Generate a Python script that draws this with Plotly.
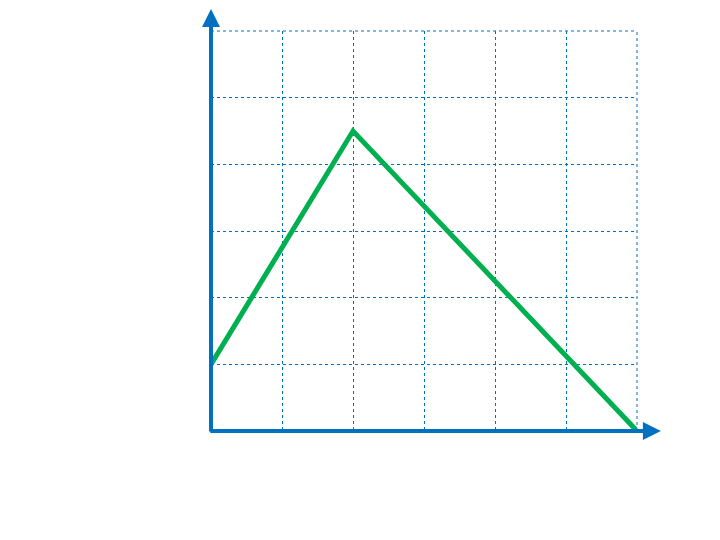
import plotly.graph_objects as go

x_vals = [0, 2, 6]
y_vals = [1, 4.5, 0]

fig = go.Figure()
fig.add_trace(go.Scatter(x=x_vals, y=y_vals, mode="lines",
                         line=dict(color="#00B050", width=5), hoverinfo="skip"))

blue = "#0070C0"
axis_common = dict(range=[0, 6], dtick=1, tick0=0, showgrid=True, gridcolor=blue,
                   gridwidth=1, griddash="dot", showticklabels=False, ticks="",
                   zeroline=False, showline=False, fixedrange=True)
fig.update_xaxes(**axis_common)
fig.update_yaxes(**axis_common)

# boundary grid lines (top and right edges of the plot area)
fig.add_shape(type="line", xref="paper", yref="paper", x0=0, x1=1, y0=1, y1=1,
              line=dict(color=blue, width=1, dash="dot"), layer="below")
fig.add_shape(type="line", xref="paper", yref="paper", x0=1, x1=1, y0=0, y1=1,
              line=dict(color=blue, width=1, dash="dot"), layer="below")

fig.add_annotation(x=1.056, y=0, xref="paper", yref="paper", ax=-452, ay=0,
                   showarrow=True, arrowhead=2, arrowsize=0.9, arrowwidth=4,
                   arrowcolor=blue, text="")
fig.add_annotation(x=0, y=1.08, xref="paper", yref="paper", ax=0, ay=434,
                   showarrow=True, arrowhead=2, arrowsize=0.9, arrowwidth=4,
                   arrowcolor=blue, text="")

fig.update_layout(width=720, height=540, margin=dict(l=203, r=91, t=23, b=117),
                  plot_bgcolor="white", paper_bgcolor="white", showlegend=False)
fig.write_html("out.html")
